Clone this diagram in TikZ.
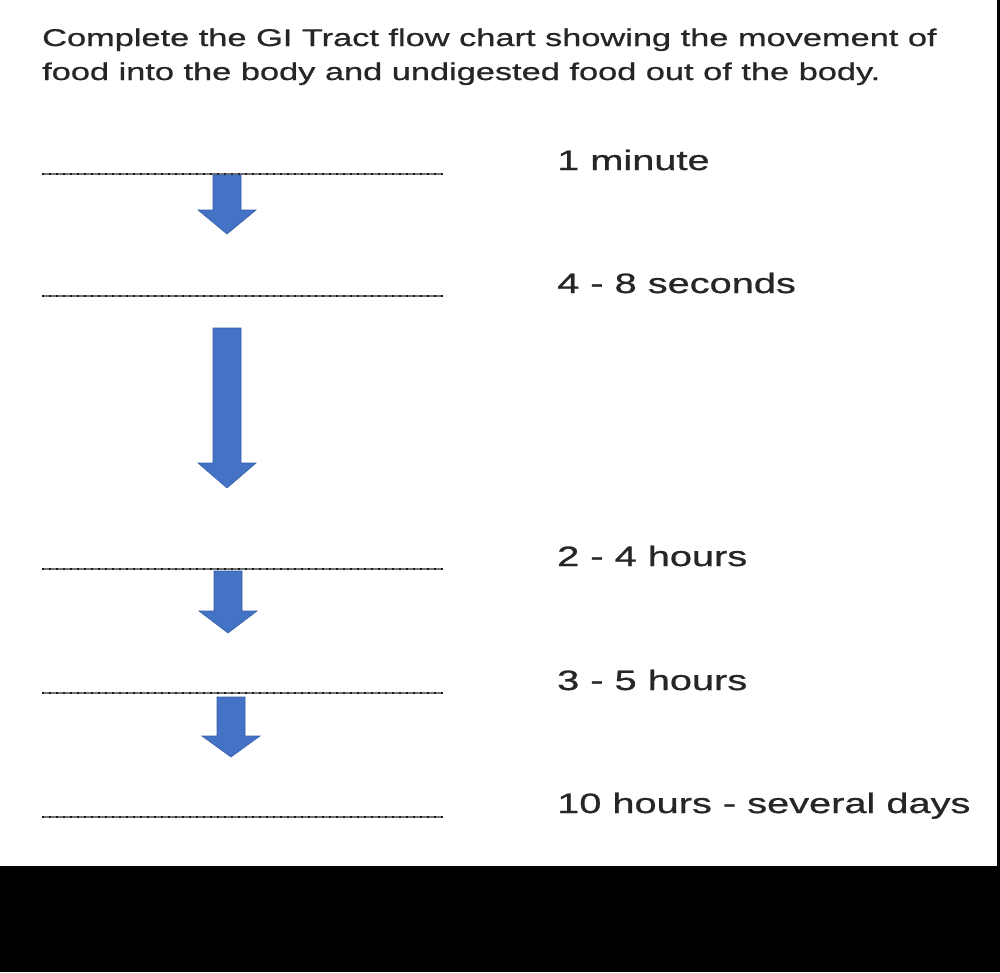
\documentclass[tikz,border=0pt]{standalone}
\usepackage{fontspec}
\setmainfont{Liberation Sans}
\newfontfamily\gifont[FakeStretch=1.42, FakeBold=0.8]{Liberation Sans}
\usetikzlibrary{calc}

\definecolor{arrowblue}{RGB}{68,114,196}
\definecolor{arrowedge}{RGB}{55,95,170}

\tikzset{
	blank/.style={color=black!55, line width=2.6pt},
	blankdots/.style={color=black!90, line width=1.6pt, dash pattern=on 2pt off 5pt},
	flowarrow/.style={fill=arrowblue, draw=arrowedge, line width=0.6pt},
	timelabel/.style={anchor=base west, inner sep=0pt, text=black!85, font=\gifont\fontsize{28}{34}\selectfont},
	heading/.style={anchor=base west, inner sep=0pt, align=left, text=black!85, font=\gifont\fontsize{24.2}{34}\selectfont}
}

% shaft from #1 down to #2, head starts #3 above the tip
\newcommand{\gitarrow}[3]{
	\draw[flowarrow] ($(#1)+(-14,0)$) -- ($(#1)+(14,0)$) -- ($(#2)+(14,-#3)$) -- ($(#2)+(29,-#3)$)
		-- (#2) -- ($(#2)+(-29,-#3)$) -- ($(#2)+(-14,-#3)$) -- cycle;
}

\begin{document}
\begin{tikzpicture}[x=1pt, y=-1pt]
	\useasboundingbox (0,0) rectangle (1000,972);
	\fill[black] (0,0) rectangle (1000,972);
	\fill[white] (0,0) rectangle (997,866);

	% base anchor sits on the last line
	\node[heading] (title) at (42,80) {Complete the GI Tract flow chart showing the movement of\\food into the body and undigested food out of the body.};

	% blank lines to fill in
	\foreach \name/\y in {mouth/174, pharynx/296, stomach/569, smallint/693, largeint/817} {
		\coordinate (\name W) at (42,\y);
		\coordinate (\name E) at (443,\y);
		\draw[blank] (\name W) -- (\name E);
		\draw[blankdots] (\name W) -- (\name E);
	}

	\node[timelabel] (tmouth) at (557,170) {1 minute};
	\node[timelabel] (tpharynx) at (557,293) {4 - 8 seconds};
	\node[timelabel] (tstomach) at (557,566) {2 - 4 hours};
	\node[timelabel] (tsmallint) at (557,690) {3 - 5 hours};
	\node[timelabel] (tlargeint) at (557,813) {10 hours - several days};

	% arrows between the lines
	\coordinate (a1top) at (227,175);  \coordinate (a1tip) at (227,234);
	\coordinate (a2top) at (227,328);  \coordinate (a2tip) at (227,488);
	\coordinate (a3top) at (228,571);  \coordinate (a3tip) at (228,633);
	\coordinate (a4top) at (231,697);  \coordinate (a4tip) at (231,757);
	\gitarrow{a1top}{a1tip}{24}
	\gitarrow{a2top}{a2tip}{25}
	\gitarrow{a3top}{a3tip}{22}
	\gitarrow{a4top}{a4tip}{21}
\end{tikzpicture}
\end{document}
